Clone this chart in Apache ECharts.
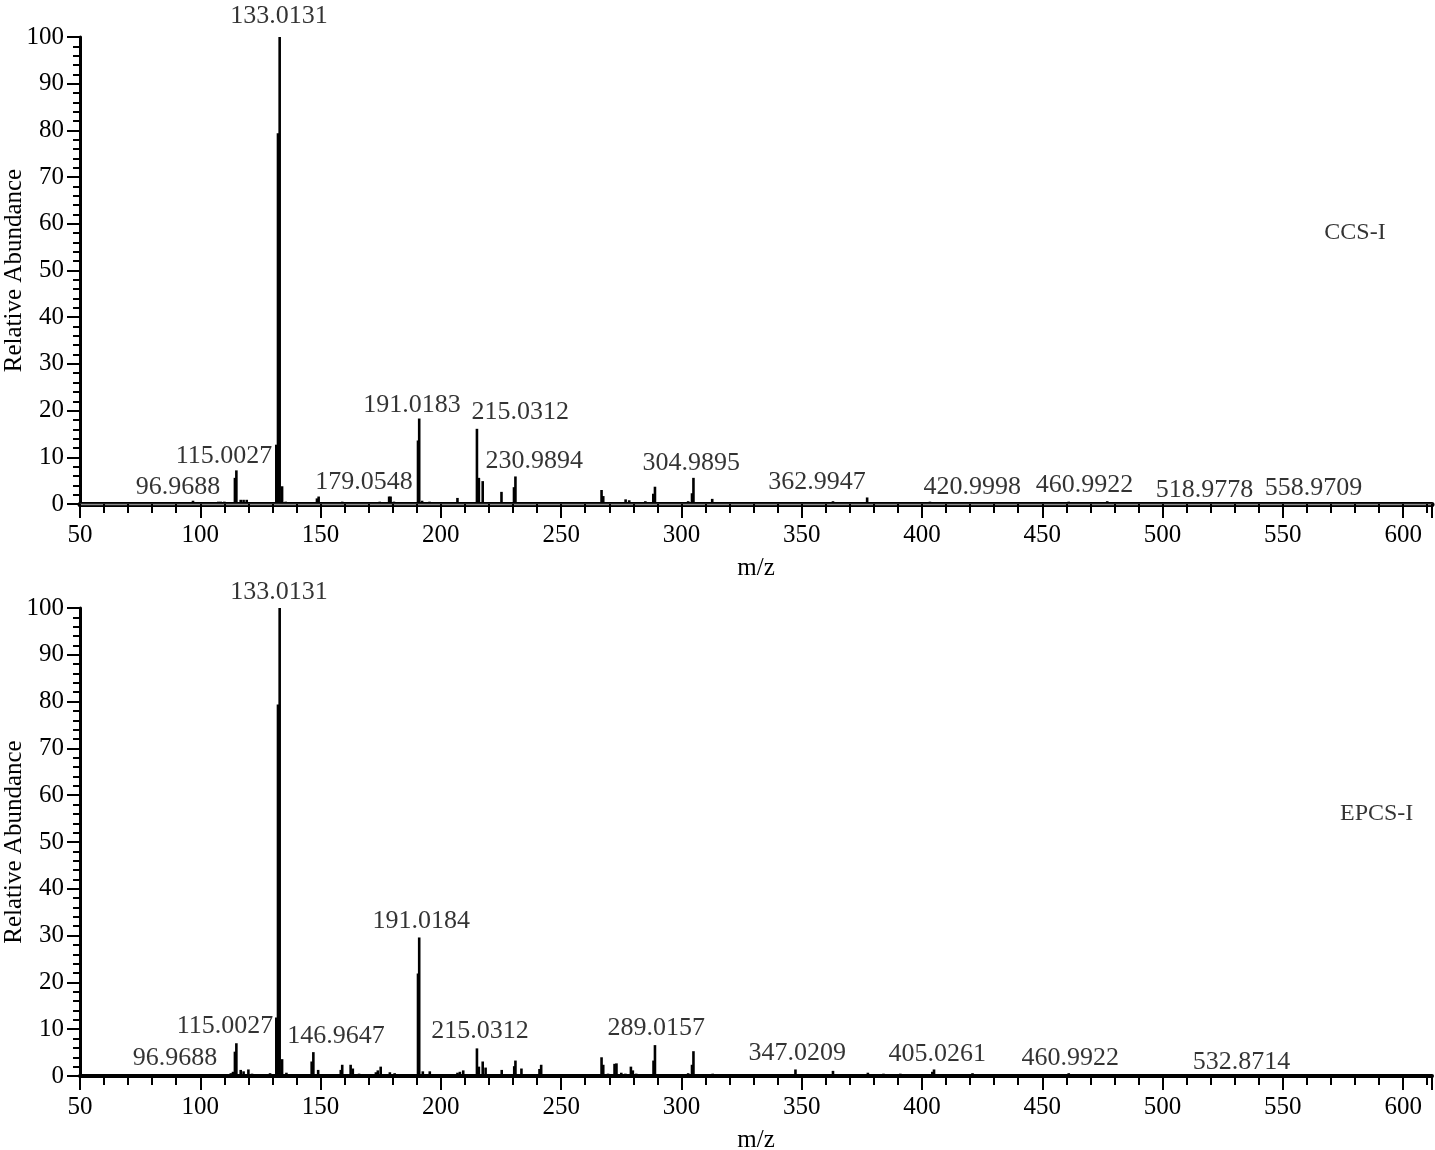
<!DOCTYPE html>
<html>
<head>
<meta charset="utf-8">
<script src="https://cdn.jsdelivr.net/npm/echarts@6/dist/echarts.min.js"></script>
<style>
html,body{margin:0;padding:0;background:#fff;}
#chart{width:1435px;height:1150px;}
</style>
</head>
<body>
<div id="chart"></div>
<script>
// ---- Data ----
const xMin = 50, xMax = 612;

// CCS-I peaks
const ccsMz = [96.97,104.7,107.5,108.5,110.0,114.4,115.0,116.8,118.0,119.3,129.5,131.6,132.3,133.0,134.0,135.5,147.2,148.5,149.2,159.0,170.8,174.6,178.5,179.1,180.5,190.5,191.0,192.2,195.3,206.9,209.2,215.0,215.8,217.4,225.2,230.4,231.0,266.8,267.5,270.6,274.5,276.8,278.3,285.0,288.3,289.0,302.8,304.4,305.0,312.8,347.3,363.0,377.2,403.3,421.0,461.0,477.0,519.0,559.0];
const ccsAb = [0.7,0.4,0.5,0.5,0.5,5.6,7.2,0.9,0.9,0.9,0.4,12.7,79.4,100,3.8,0.5,0.4,1.2,1.6,0.5,0.4,0.5,1.6,1.6,0.5,13.6,18.3,0.7,0.5,1.3,0.4,16.1,5.6,4.9,2.6,3.6,5.9,3.0,1.7,0.4,0.3,1.0,0.8,0.6,2.2,3.7,0.6,2.3,5.6,1.1,0.4,0.6,1.4,0.5,0.3,0.5,0.6,0.2,0.2];
const ccsLabelText = ['133.0131','96.9688','115.0027','179.0548','191.0183','215.0312','230.9894','304.9895','362.9947','420.9998','460.9922','518.9778','558.9709'];
const ccsLabelMz = [132.7,90.7,109.9,168.1,188.0,233.0,238.8,304.1,356.4,420.9,467.5,517.4,562.7];
const ccsLabelAb = [104.5,3.6,10.3,4.7,21.2,19.7,9.2,8.8,4.7,3.6,4.1,3.0,3.4];

// EPCS-I peaks
const epcsMz = [96.97,111.6,112.7,113.6,114.4,115.0,116.8,118.0,120.0,121.5,129.0,130.5,131.6,132.3,133.0,134.0,135.8,143.0,146.3,147.0,149.0,154.5,158.4,159.0,162.5,163.4,166.0,171.5,173.0,173.8,175.0,178.8,180.8,190.5,191.0,192.5,195.4,206.9,207.9,209.3,215.0,215.8,217.4,218.6,225.3,230.5,231.0,233.5,241.0,241.7,252.8,266.8,267.5,269.5,272.2,273.0,275.0,276.7,279.0,279.8,281.2,288.4,289.0,292.0,302.8,304.4,305.0,313.0,347.4,363.0,377.5,384.0,391.0,404.3,405.0,421.0,461.0,532.9];
const epcsAb = [0.3,0.4,0.6,0.9,5.2,7.0,1.3,1.0,1.4,0.5,0.6,0.4,12.5,79.4,100,3.6,0.7,0.4,3.1,5.1,1.3,0.4,1.3,2.4,2.4,1.6,0.5,0.4,0.8,1.2,2.0,0.8,0.6,21.9,29.6,1.0,1.0,0.7,0.9,1.2,5.9,2.0,3.1,1.8,1.3,2.1,3.3,1.6,1.5,2.4,0.4,4.0,2.4,0.5,2.6,2.7,0.7,0.5,2.0,1.2,0.5,3.3,6.6,0.4,0.6,2.4,5.3,0.5,1.4,1.1,0.7,0.5,0.5,0.9,1.4,0.6,0.6,0.2];
const epcsLabelText = ['133.0131','96.9688','115.0027','146.9647','191.0184','215.0312','289.0157','347.0209','405.0261','460.9922','532.8714'];
const epcsLabelMz = [132.7,89.5,110.3,156.4,191.8,216.3,289.5,348.1,406.3,461.6,532.8];
const epcsLabelAb = [103.4,3.8,10.7,8.5,33.0,9.5,10.3,4.9,4.7,3.8,3.0];

const panelNames = ['CCS-I','EPCS-I'];
const panelNameMz = [580, 589];
const panelNameAb = [58, 56];

// ---- Build ----
const FONT = 'Liberation Serif';
const grids = [
  {left:80, right:3, top:37, height:467, containLabel:false, outerBoundsMode:'none'},
  {left:80, right:3, top:608, height:468, containLabel:false, outerBoundsMode:'none'}
];
const xAxes = [], yAxes = [], series = [];
const panels = [
  {mz:ccsMz, ab:ccsAb, lt:ccsLabelText, lm:ccsLabelMz, la:ccsLabelAb, lineW:5, inner:'#8a8a8a'},
  {mz:epcsMz, ab:epcsAb, lt:epcsLabelText, lm:epcsLabelMz, la:epcsLabelAb, lineW:4, inner:null}
];
panels.forEach((p, i) => {
  xAxes.push({
    type:'value', gridIndex:i, min:xMin, max:xMax, interval:50, position:'bottom',
    name:'m/z', nameLocation:'middle', nameGap:52, nameMoveOverlap:false,
    nameTextStyle:{fontFamily:FONT, fontSize:25, color:'#000'},
    axisLine:{show:true, onZero:false, lineStyle:{color:'#000', width:p.lineW}},
    axisTick:{show:true, length:14, lineStyle:{color:'#000', width:2}},
    axisLabel:{margin:19, fontFamily:FONT, fontSize:25, color:'#000',
      formatter: v => (v % 50 === 0 ? String(v) : '')},
    splitLine:{show:false}
  });
  xAxes.push({
    type:'value', gridIndex:i, min:xMin, max:xMax, interval:10, position:'bottom', z:5,
    axisLine:{show:!!p.inner, onZero:false, lineStyle:{color:p.inner || '#000', width:1.3}},
    axisTick:{show:true, length:9, lineStyle:{color:'#000', width:2}},
    axisLabel:{show:false},
    splitLine:{show:false}
  });
  yAxes.push({
    type:'value', gridIndex:i, min:0, max:100, interval:10,
    name:'Relative Abundance', nameLocation:'middle', nameGap:53, nameMoveOverlap:false,
    nameTextStyle:{fontFamily:FONT, fontSize:25, color:'#000'},
    axisLine:{show:true, lineStyle:{color:'#000', width:3}},
    axisTick:{show:true, length:13, lineStyle:{color:'#000', width:2}},
    minorTick:{show:true, splitNumber:5, length:7, lineStyle:{color:'#000', width:2}},
    axisLabel:{margin:16, fontFamily:FONT, fontSize:25, color:'#000'},
    splitLine:{show:false}
  });
  series.push({
    type:'bar', xAxisIndex:i*2, yAxisIndex:i, barWidth:2.6,
    itemStyle:{color:'#000'}, silent:true,
    data: p.mz.map((m, k) => [m, p.ab[k]])
  });
  series.push({
    type:'scatter', xAxisIndex:i*2, yAxisIndex:i, symbolSize:1, clip:false, silent:true,
    itemStyle:{color:'rgba(0,0,0,0)'},
    label:{show:true, position:'inside', fontFamily:FONT, fontSize:26, color:'#000',
      formatter: q => q.data[2]},
    data: p.lm.map((m, k) => [m, p.la[k], p.lt[k]])
  });
  series.push({
    type:'scatter', xAxisIndex:i*2, yAxisIndex:i, symbolSize:1, clip:false, silent:true,
    itemStyle:{color:'rgba(0,0,0,0)'},
    label:{show:true, position:'inside', fontFamily:FONT, fontSize:24, color:'#000',
      formatter: q => q.data[2]},
    data: [[panelNameMz[i], panelNameAb[i], panelNames[i]]]
  });
});

const chart = echarts.init(document.getElementById('chart'), null, {renderer:'canvas'});
chart.setOption({
  animation:false,
  backgroundColor:'#fff',
  grid: grids,
  xAxis: xAxes,
  yAxis: yAxes,
  series: series
});
</script>
</body>
</html>
